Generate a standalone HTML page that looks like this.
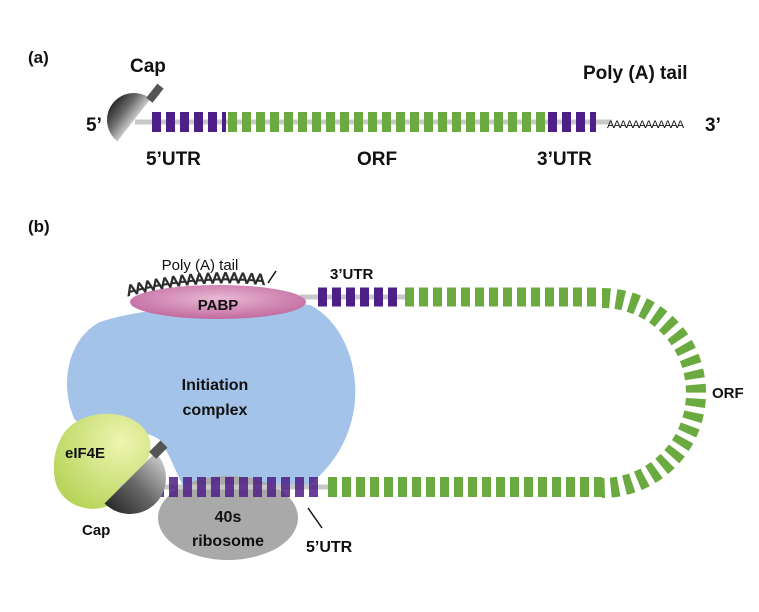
<!DOCTYPE html>
<html><head><meta charset="utf-8"><style>
html,body{margin:0;padding:0;background:#fff;}
svg{display:block;}
text{font-family:"Liberation Sans",sans-serif;font-weight:bold;fill:#111;}
</style></head><body>
<svg width="759" height="612" viewBox="0 0 759 612" xmlns="http://www.w3.org/2000/svg">
<defs>
<linearGradient id="capg" x1="0" y1="0" x2="0" y2="1">
<stop offset="0" stop-color="#2a2a2a"/><stop offset="0.5" stop-color="#6a6a6a"/><stop offset="1" stop-color="#c8c8c8"/>
</linearGradient>
<linearGradient id="capg2" x1="0" y1="0" x2="1" y2="0">
<stop offset="0" stop-color="#2a2a2a"/><stop offset="0.5" stop-color="#6a6a6a"/><stop offset="1" stop-color="#c8c8c8"/>
</linearGradient>
<radialGradient id="pabp" cx="0.5" cy="0.4" r="0.6">
<stop offset="0" stop-color="#e8b8d4"/><stop offset="1" stop-color="#c26a9f"/>
</radialGradient>
<radialGradient id="eif" cx="0.7" cy="0.3" r="0.8">
<stop offset="0" stop-color="#eef5b0"/><stop offset="1" stop-color="#b8d45a"/>
</radialGradient>
</defs>

<!-- (a) -->
<text x="28" y="63" font-size="17">(a)</text>
<text x="130" y="72" font-size="19">Cap</text>
<text x="583" y="79" font-size="19">Poly (A) tail</text>
<text x="86" y="131" font-size="19">5’</text>
<text x="705" y="131" font-size="19">3’</text>
<line x1="135" y1="122" x2="612" y2="122" stroke="#c8c8c8" stroke-width="5"/>
<g transform="translate(134,120) rotate(-52)">
<path d="M-27,0 A27,27 0 0 1 27,0 Z" fill="url(#capg)"/>
<rect x="25" y="-4" width="18" height="8" fill="#555"/>
</g>
<line x1="152" y1="122" x2="226" y2="122" stroke="#4e1f86" stroke-width="20" stroke-dasharray="9 5"/>
<line x1="228" y1="122" x2="545" y2="122" stroke="#6aaa40" stroke-width="20" stroke-dasharray="9 5"/>
<line x1="548" y1="122" x2="596" y2="122" stroke="#4e1f86" stroke-width="20" stroke-dasharray="9 5"/>
<text x="607" y="128" font-size="11" style="font-weight:normal" letter-spacing="-1" fill="#333">AAAAAAAAAAAA</text>
<text x="146" y="165" font-size="19">5’UTR</text>
<text x="357" y="165" font-size="19">ORF</text>
<text x="537" y="165" font-size="19">3’UTR</text>

<!-- (b) -->
<text x="28" y="232" font-size="17">(b)</text>

<path d="M100,322 C150,305 260,300 310,305 C340,320 358,360 355,400 C352,440 330,470 305,488 L185,490 C175,470 170,455 160,440 C140,425 100,435 75,420 C60,390 65,340 100,322 Z" fill="#a3c3e8"/>

<line x1="300" y1="297" x2="405" y2="297" stroke="#c8c8c8" stroke-width="5"/>
<line x1="318" y1="297" x2="402" y2="297" stroke="#4e1f86" stroke-width="19" stroke-dasharray="9 5"/>
<line x1="405" y1="297" x2="598" y2="297" stroke="#6aaa40" stroke-width="19" stroke-dasharray="9 5"/>
<path d="M602,298 A94,95 0 0 1 602,488" fill="none" stroke="#6aaa40" stroke-width="20" stroke-dasharray="8 6"/>

<ellipse cx="218" cy="302" rx="88" ry="17" fill="url(#pabp)"/>
<path id="arcA" d="M128,296 Q218,272 310,292" fill="none"/>
<text font-size="15" style="font-weight:normal" fill="#fff" stroke="#333" stroke-width="1" letter-spacing="-1.5"><textPath href="#arcA">AAAAAAAAAAAAAAAA</textPath></text>
<text x="218" y="310" font-size="15" text-anchor="middle">PABP</text>
<text x="200" y="270" font-size="15" text-anchor="middle" style="font-weight:normal">Poly (A) tail</text>
<line x1="276" y1="271" x2="268" y2="283" stroke="#111" stroke-width="1.5"/>
<text x="330" y="279" font-size="15">3’UTR</text>
<text x="215" y="390" font-size="16" text-anchor="middle">Initiation</text>
<text x="215" y="415" font-size="16" text-anchor="middle">complex</text>

<path d="M60,440 C75,405 140,405 150,440 C155,470 120,490 110,505 C90,515 60,505 55,480 C52,465 55,450 60,440 Z" fill="url(#eif)"/>
<text x="65" y="458" font-size="15">eIF4E</text>

<ellipse cx="228" cy="518" rx="70" ry="42" fill="#a9a9a9"/>
<text x="228" y="522" font-size="16" text-anchor="middle">40s</text>
<text x="228" y="546" font-size="16" text-anchor="middle">ribosome</text>

<line x1="120" y1="487" x2="330" y2="487" stroke="#c8c8c8" stroke-width="5"/>
<line x1="155" y1="487" x2="322" y2="487" stroke="#4e1f86" stroke-width="20" stroke-dasharray="9 5" opacity="0.85"/>
<line x1="328" y1="487" x2="602" y2="487" stroke="#6aaa40" stroke-width="20" stroke-dasharray="9 5"/>

<g transform="translate(130,478) rotate(-45)">
<path d="M-36,0 A36,36 0 0 0 36,0 Z" fill="url(#capg2)"/>
<rect x="32" y="-5" width="16" height="10" fill="#555"/>
</g>
<text x="82" y="535" font-size="15">Cap</text>
<line x1="308" y1="508" x2="322" y2="528" stroke="#111" stroke-width="1.5"/>
<text x="306" y="552" font-size="16">5’UTR</text>
<text x="712" y="398" font-size="15">ORF</text>
</svg>
</body></html>
